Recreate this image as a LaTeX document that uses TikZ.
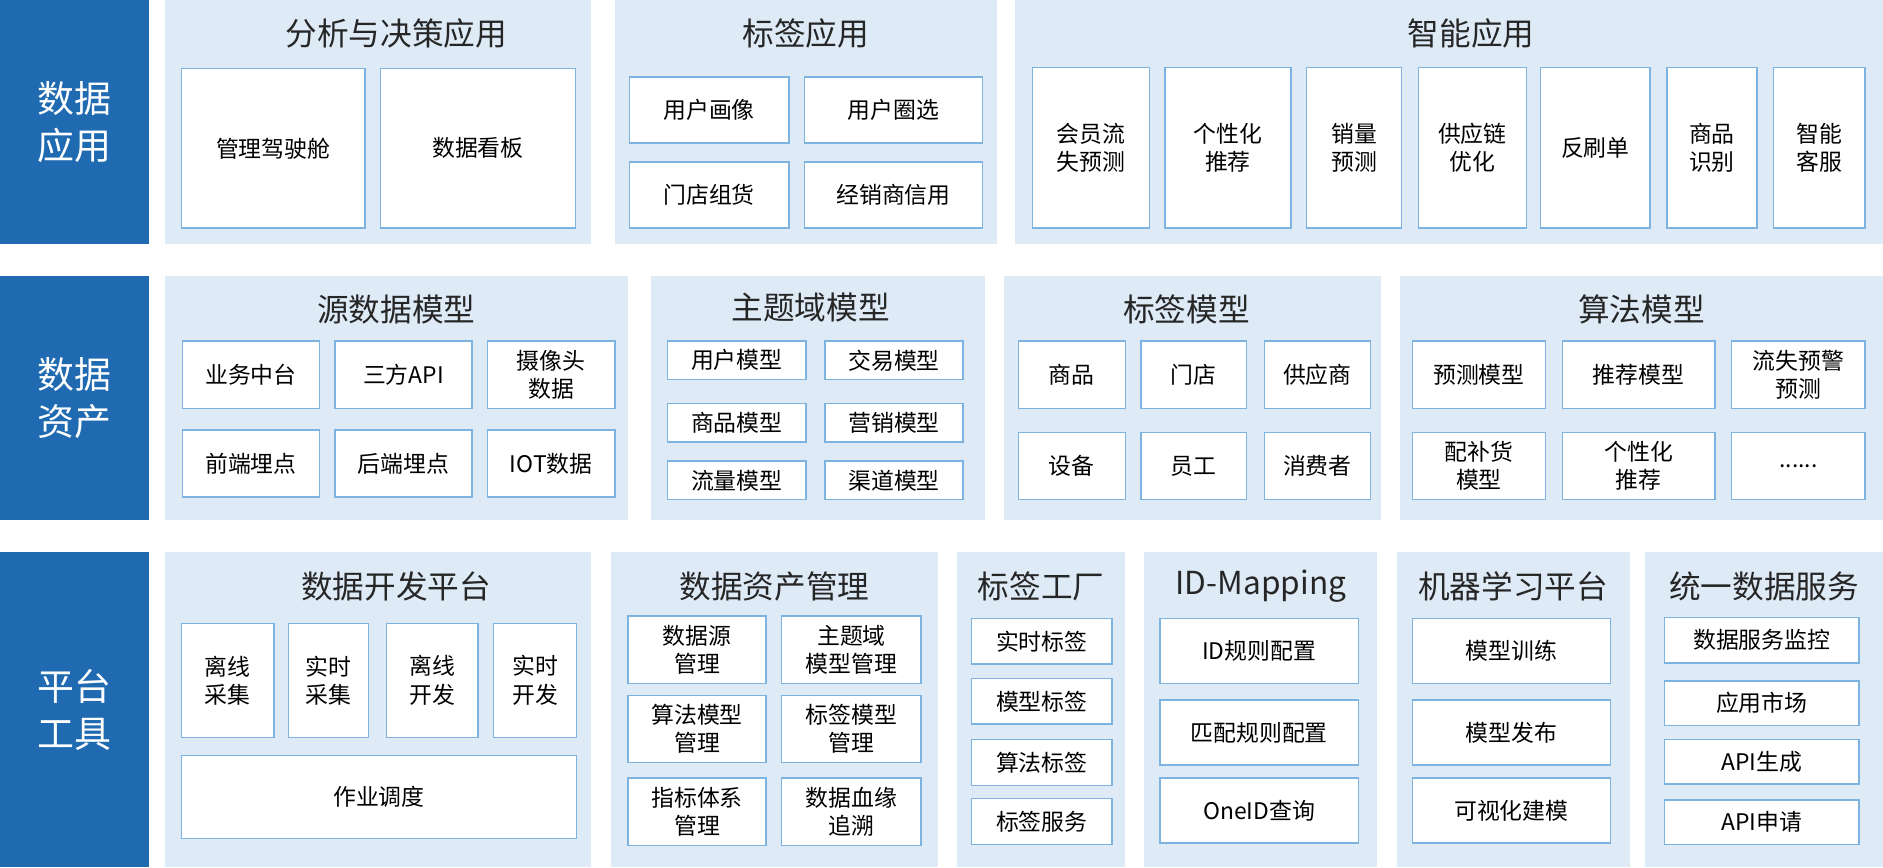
\documentclass[tikz,border=0pt]{standalone}
\usepackage{fontspec}
\setmainfont{Noto Sans CJK SC}
\definecolor{sidebl}{HTML}{1F6AB0}
\definecolor{panelbl}{HTML}{DEEBF7}
\definecolor{linebl}{HTML}{7DB3E0}
\tikzset{
  panel/.style={fill=panelbl, draw=none, inner sep=0pt},
  side/.style={fill=sidebl, draw=none, inner sep=0pt, text=white, align=center, font=\fontsize{21}{27}\selectfont},
  cell/.style={fill=white, draw=linebl, line width=0.8pt, inner sep=0pt, align=center, font=\fontsize{13}{16}\selectfont},
  title/.style={font=\fontsize{18}{22}\selectfont, text=black!85}
}
% box from corner to corner, in pixels
\newcommand{\blockat}[7]{\node[#1, minimum width={(#5-#3)*0.024cm}, minimum height={(#6-#4)*0.024cm}] (#2) at ({(#3+#5)/2},{(#4+#6)/2}) {#7};}
\begin{document}
\begin{tikzpicture}[x=0.024cm, y=-0.024cm]
\useasboundingbox (0,0) rectangle (1568,722);

% row 1
\blockat{side}{appS}{0}{0}{124}{203}{数据\\应用}
\blockat{panel}{appA}{137}{0}{492}{203}{}
\blockat{panel}{appB}{512}{0}{830}{203}{}
\blockat{panel}{appC}{845}{0}{1568}{203}{}
\node[title] (appAt) at (330,28) {分析与决策应用};
\node[title] (appBt) at (671,28) {标签应用};
\node[title] (appCt) at (1225,28) {智能应用};
\blockat{cell}{a1}{151}{57}{304}{190}{管理驾驶舱}
\blockat{cell}{a2}{317}{57}{479}{190}{数据看板}
\blockat{cell}{b1}{524}{64}{657}{119}{用户画像}
\blockat{cell}{b2}{670}{64}{818}{119}{用户圈选}
\blockat{cell}{b3}{524}{135}{657}{190}{门店组货}
\blockat{cell}{b4}{670}{135}{818}{190}{经销商信用}
\blockat{cell}{c1}{860}{56}{957}{190}{会员流\\失预测}
\blockat{cell}{c2}{970}{56}{1075}{190}{个性化\\推荐}
\blockat{cell}{c3}{1088}{56}{1167}{190}{销量\\预测}
\blockat{cell}{c4}{1181}{56}{1271}{190}{供应链\\优化}
\blockat{cell}{c5}{1283}{56}{1374}{190}{反刷单}
\blockat{cell}{c6}{1388}{56}{1463}{190}{商品\\识别}
\blockat{cell}{c7}{1477}{56}{1553}{190}{智能\\客服}

% row 2
\blockat{side}{astS}{0}{230}{124}{433}{数据\\资产}
\blockat{panel}{astA}{137}{230}{523}{433}{}
\blockat{panel}{astB}{542}{230}{820}{433}{}
\blockat{panel}{astC}{836}{230}{1150}{433}{}
\blockat{panel}{astD}{1166}{230}{1568}{433}{}
\node[title] (astAt) at (330,258) {源数据模型};
\node[title] (astBt) at (675,256) {主题域模型};
\node[title] (astCt) at (988,258) {标签模型};
\node[title] (astDt) at (1367,258) {算法模型};
\blockat{cell}{d1}{152}{284}{266}{340}{业务中台}
\blockat{cell}{d2}{279}{284}{393}{340}{三方API}
\blockat{cell}{d3}{406}{284}{512}{340}{摄像头\\数据}
\blockat{cell}{d4}{152}{358}{266}{414}{前端埋点}
\blockat{cell}{d5}{279}{358}{393}{414}{后端埋点}
\blockat{cell}{d6}{406}{358}{512}{414}{IOT数据}
\blockat{cell}{e1}{556}{284}{671}{316}{用户模型}
\blockat{cell}{e2}{687}{284}{802}{316}{交易模型}
\blockat{cell}{e3}{556}{336}{671}{368}{商品模型}
\blockat{cell}{e4}{687}{336}{802}{368}{营销模型}
\blockat{cell}{e5}{556}{384}{671}{416}{流量模型}
\blockat{cell}{e6}{687}{384}{802}{416}{渠道模型}
\blockat{cell}{f1}{848}{284}{937}{340}{商品}
\blockat{cell}{f2}{950}{284}{1038}{340}{门店}
\blockat{cell}{f3}{1053}{284}{1141}{340}{供应商}
\blockat{cell}{f4}{848}{360}{937}{416}{设备}
\blockat{cell}{f5}{950}{360}{1038}{416}{员工}
\blockat{cell}{f6}{1053}{360}{1141}{416}{消费者}
\blockat{cell}{g1}{1176}{284}{1287}{340}{预测模型}
\blockat{cell}{g2}{1301}{284}{1428}{340}{推荐模型}
\blockat{cell}{g3}{1442}{284}{1553}{340}{流失预警\\预测}
\blockat{cell}{g4}{1176}{360}{1287}{416}{配补货\\模型}
\blockat{cell}{g5}{1301}{360}{1428}{416}{个性化\\推荐}
\blockat{cell}{g6}{1442}{360}{1553}{416}{......}

% row 3
\blockat{side}{tolS}{0}{460}{124}{722}{平台\\工具}
\blockat{panel}{tolA}{137}{460}{492}{722}{}
\blockat{panel}{tolB}{509}{460}{781}{722}{}
\blockat{panel}{tolC}{797}{460}{937}{722}{}
\blockat{panel}{tolD}{953}{460}{1147}{722}{}
\blockat{panel}{tolE}{1163}{460}{1357}{722}{}
\blockat{panel}{tolF}{1370}{460}{1568}{722}{}
\node[title] (tolAt) at (330,488) {数据开发平台};
\node[title] (tolBt) at (645,488) {数据资产管理};
\node[title] (tolCt) at (867,488) {标签工厂};
\node[title] (tolDt) at (1050,488) {ID-Mapping};
\node[title] (tolEt) at (1260,488) {机器学习平台};
\node[title] (tolFt) at (1469,488) {统一数据服务};
\blockat{cell}{h1}{151}{519}{228}{614}{离线\\采集}
\blockat{cell}{h2}{240}{519}{307}{614}{实时\\采集}
\blockat{cell}{h3}{322}{519}{398}{614}{离线\\开发}
\blockat{cell}{h4}{411}{519}{480}{614}{实时\\开发}
\blockat{cell}{h5}{151}{629}{480}{698}{作业调度}
\blockat{cell}{i1}{523}{513}{638}{569}{数据源\\管理}
\blockat{cell}{i2}{651}{513}{767}{569}{主题域\\模型管理}
\blockat{cell}{i3}{523}{579}{638}{635}{算法模型\\管理}
\blockat{cell}{i4}{651}{579}{767}{635}{标签模型\\管理}
\blockat{cell}{i5}{523}{648}{638}{704}{指标体系\\管理}
\blockat{cell}{i6}{651}{648}{767}{704}{数据血缘\\追溯}
\blockat{cell}{j1}{809}{515}{926}{553}{实时标签}
\blockat{cell}{j2}{809}{565}{926}{603}{模型标签}
\blockat{cell}{j3}{809}{616}{926}{654}{算法标签}
\blockat{cell}{j4}{809}{665}{926}{703}{标签服务}
\blockat{cell}{k1}{966}{515}{1131}{569}{ID规则配置}
\blockat{cell}{k2}{966}{583}{1131}{637}{匹配规则配置}
\blockat{cell}{k3}{966}{648}{1131}{702}{OneID查询}
\blockat{cell}{l1}{1176}{515}{1341}{569}{模型训练}
\blockat{cell}{l2}{1176}{583}{1341}{637}{模型发布}
\blockat{cell}{l3}{1176}{648}{1341}{702}{可视化建模}
\blockat{cell}{m1}{1386}{514}{1548}{552}{数据服务监控}
\blockat{cell}{m2}{1386}{567}{1548}{604}{应用市场}
\blockat{cell}{m3}{1386}{616}{1548}{653}{API生成}
\blockat{cell}{m4}{1386}{666}{1548}{703}{API申请}
\end{tikzpicture}
\end{document}
